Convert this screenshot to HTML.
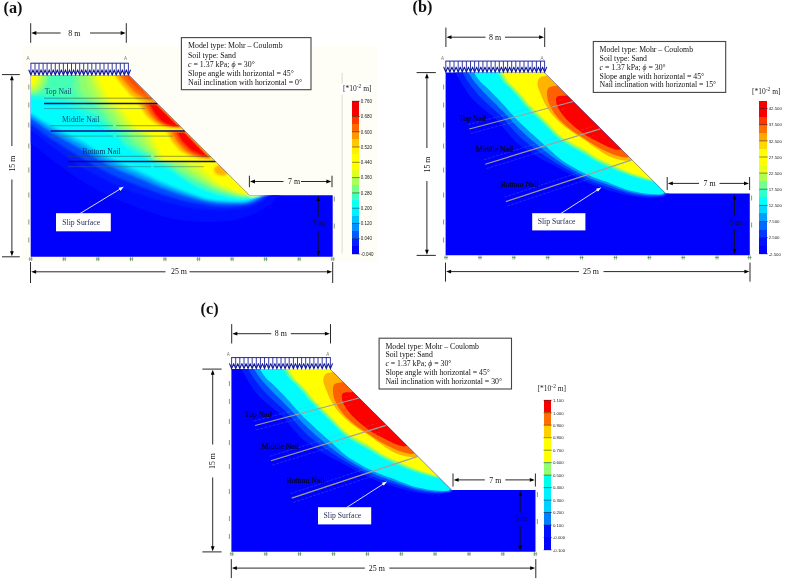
<!DOCTYPE html>
<html><head><meta charset="utf-8"><title>Figure</title>
<style>html,body{margin:0;padding:0;background:#fff}svg{display:block}</style></head>
<body><svg width="785" height="581" viewBox="0 0 785 581">
<rect width="785" height="581" fill="#fff"/>
<defs><filter id="bla" x="0" y="0" width="400" height="300" filterUnits="userSpaceOnUse"><feGaussianBlur stdDeviation="1.1"/></filter><filter id="blb" x="200" y="0" width="585" height="581" filterUnits="userSpaceOnUse"><feGaussianBlur stdDeviation="0.45"/></filter></defs>
<clipPath id="clipb"><polygon points="445.6,72.5 544.3,72.5 665.8,193.4 749.8,193.4 749.8,255.2 445.6,255.2"/></clipPath><g clip-path="url(#clipb)"><rect x="444.6" y="71.5" width="306.2" height="184.7" fill="#0000fd"/><g filter="url(#blb)"><path d="M451.0,64.0L452.9,68.2L455.2,72.3L457.5,76.3L459.9,80.3L462.2,84.3L464.7,88.3L467.2,92.2L470.0,95.9L473.0,99.4L476.3,102.7L479.9,105.7L483.5,108.7L487.0,111.7L490.6,114.6L494.3,117.5L497.6,120.7L500.7,124.2L503.5,127.9L506.4,131.5L509.5,135.0L512.5,138.5L515.8,141.8L519.4,144.7L523.2,147.4L527.1,150.0L531.0,152.5L534.9,155.0L538.9,157.4L542.9,159.7L547.0,162.0L551.1,164.1L555.2,166.3L559.4,168.5L563.4,170.7L567.5,172.9L571.6,175.1L575.7,177.3L579.8,179.5L584.0,181.5L588.3,183.3L592.6,185.0L597.0,186.5L601.4,188.0L605.8,189.4L610.3,190.8L614.8,192.0L619.3,193.3L623.7,194.5L628.3,195.5L632.9,196.3L637.5,197.0L642.1,197.5L646.7,197.9L651.4,197.9L656.0,197.6L660.6,197.0L665.1,195.9L669.1,193.6L672.0,190.0L900.0,150.0L900.0,-50.0L400.0,-50.0Z" fill="#001cff"/><path d="M457.5,64.0L459.6,68.0L461.9,71.8L464.2,75.6L466.6,79.5L469.0,83.2L471.7,86.8L474.5,90.3L477.4,93.7L480.4,97.1L483.6,100.2L486.9,103.3L490.2,106.3L493.5,109.3L496.9,112.3L500.2,115.3L503.3,118.5L506.3,121.9L509.2,125.3L512.2,128.7L515.2,132.0L518.3,135.3L521.6,138.4L525.0,141.3L528.5,144.1L532.1,146.7L535.8,149.4L539.5,151.9L543.1,154.5L546.8,157.1L550.5,159.6L554.3,162.0L558.1,164.2L562.0,166.5L566.0,168.7L569.9,170.9L573.8,173.1L577.8,175.2L581.8,177.2L585.9,179.1L590.0,180.9L594.2,182.5L598.5,184.0L602.7,185.4L607.0,186.9L611.2,188.3L615.5,189.7L619.8,191.0L624.1,192.3L628.5,193.5L632.9,194.4L637.3,195.2L641.8,195.8L646.2,196.2L650.7,196.5L655.2,196.4L659.7,196.0L664.1,195.3L667.9,193.0L670.9,189.6L900.0,150.0L900.0,-50.0L400.0,-50.0Z" fill="#004cff"/><path d="M462.9,64.0L465.2,67.7L467.5,71.4L469.9,75.1L472.2,78.8L474.8,82.3L477.6,85.6L480.6,88.7L483.6,91.9L486.6,95.1L489.7,98.2L492.8,101.2L496.0,104.3L499.0,107.4L502.1,110.5L505.2,113.6L508.2,116.7L511.1,120.0L514.0,123.2L517.0,126.4L520.1,129.5L523.2,132.6L526.4,135.6L529.7,138.5L533.0,141.2L536.4,144.0L539.8,146.7L543.2,149.4L546.6,152.2L550.0,154.9L553.4,157.6L557.0,160.1L560.6,162.5L564.3,164.8L568.1,167.0L571.9,169.2L575.7,171.3L579.6,173.4L583.5,175.3L587.5,177.1L591.5,178.8L595.6,180.4L599.7,181.8L603.8,183.3L607.9,184.8L612.0,186.3L616.2,187.7L620.3,189.2L624.4,190.5L628.6,191.8L632.9,192.8L637.2,193.6L641.5,194.3L645.8,194.9L650.2,195.2L654.5,195.3L658.9,195.2L663.2,194.7L667.0,192.6L669.9,189.3L900.0,150.0L900.0,-50.0L400.0,-50.0Z" fill="#0098ff"/><path d="M468.0,64.0L470.4,67.5L472.8,71.0L475.2,74.6L477.5,78.1L480.1,81.5L483.2,84.4L486.4,87.2L489.5,90.2L492.5,93.2L495.4,96.2L498.4,99.3L501.3,102.4L504.2,105.5L507.0,108.7L509.8,111.9L512.7,115.1L515.5,118.2L518.5,121.2L521.6,124.2L524.7,127.1L527.8,130.0L530.9,132.9L534.1,135.8L537.2,138.6L540.4,141.4L543.6,144.2L546.8,147.0L549.9,149.9L553.0,152.8L556.2,155.7L559.5,158.4L562.9,160.9L566.4,163.3L570.1,165.5L573.8,167.6L577.5,169.7L581.2,171.7L585.1,173.5L588.9,175.3L592.9,176.9L596.8,178.4L600.9,179.9L604.9,181.3L608.8,182.8L612.8,184.4L616.8,185.9L620.7,187.4L624.7,188.9L628.8,190.2L632.9,191.2L637.1,192.1L641.2,192.9L645.5,193.6L649.7,194.1L653.9,194.3L658.2,194.4L662.4,194.1L666.1,192.1L669.0,189.0L900.0,150.0L900.0,-50.0L400.0,-50.0Z" fill="#00fcfd"/><path d="M492.0,64.0L493.9,67.1L495.7,70.1L497.6,73.2L499.4,76.3L501.3,79.3L503.5,82.2L506.0,84.7L508.6,87.1L511.2,89.6L513.6,92.3L516.0,94.9L518.4,97.6L520.7,100.4L522.9,103.2L525.3,105.9L527.8,108.4L530.4,110.9L532.9,113.4L535.5,115.9L538.1,118.4L540.6,120.9L543.2,123.5L545.7,126.0L548.2,128.6L550.7,131.1L553.2,133.7L555.8,136.2L558.5,138.6L561.3,140.7L564.3,142.7L567.3,144.6L570.4,146.4L573.5,148.2L576.7,149.9L579.8,151.6L583.0,153.4L586.0,155.2L589.0,157.2L592.1,159.1L595.2,160.9L598.4,162.5L601.6,164.0L604.9,165.4L608.2,166.9L611.4,168.3L614.7,169.8L618.0,171.2L621.4,172.5L624.7,173.8L628.0,175.1L631.4,176.2L634.8,177.3L638.3,178.3L641.7,179.3L645.2,180.2L648.6,181.0L652.1,181.8L655.4,182.2L658.6,182.4L900.0,150.0L900.0,-50.0L400.0,-50.0Z" fill="#44ffb4"/><path d="M494.4,64.0L496.2,67.0L498.0,70.0L499.8,73.0L501.6,76.1L503.4,79.1L505.5,81.9L507.9,84.4L510.5,86.8L513.1,89.3L515.4,91.9L517.8,94.5L520.1,97.1L522.3,99.9L524.5,102.6L526.8,105.3L529.3,107.8L531.8,110.2L534.4,112.7L536.9,115.1L539.4,117.5L541.9,120.0L544.4,122.6L546.9,125.1L549.3,127.6L551.7,130.1L554.2,132.6L556.7,135.1L559.4,137.4L562.2,139.5L565.1,141.4L568.1,143.2L571.2,145.0L574.2,146.7L577.3,148.4L580.4,150.0L583.5,151.8L586.5,153.6L589.4,155.5L592.4,157.4L595.4,159.3L598.5,160.9L601.7,162.4L604.9,163.8L608.1,165.3L611.3,166.7L614.5,168.1L617.8,169.5L621.0,170.9L624.3,172.2L627.6,173.5L630.9,174.7L634.2,175.8L637.5,176.8L640.9,177.8L644.3,178.8L647.7,179.7L651.0,180.6L654.3,181.2L657.6,181.8L900.0,150.0L900.0,-50.0L400.0,-50.0Z" fill="#8cff70"/><path d="M496.5,64.0L498.3,67.0L500.0,70.0L501.8,72.9L503.5,75.9L505.2,78.9L507.3,81.7L509.7,84.2L512.2,86.6L514.7,89.0L517.0,91.5L519.3,94.1L521.6,96.7L523.8,99.4L525.9,102.1L528.2,104.7L530.6,107.2L533.1,109.6L535.6,112.0L538.1,114.4L540.6,116.8L543.0,119.2L545.4,121.7L547.9,124.2L550.3,126.7L552.6,129.2L555.0,131.7L557.5,134.1L560.1,136.4L562.9,138.5L565.8,140.3L568.8,142.0L571.8,143.7L574.9,145.4L577.9,147.0L581.0,148.6L584.0,150.3L586.9,152.2L589.8,154.1L592.7,156.0L595.6,157.9L598.6,159.5L601.8,161.0L604.9,162.4L608.1,163.9L611.2,165.3L614.4,166.7L617.5,168.1L620.7,169.5L623.9,170.8L627.1,172.0L630.4,173.3L633.6,174.4L636.9,175.5L640.2,176.5L643.5,177.5L646.8,178.5L650.1,179.5L653.4,180.4L656.6,181.2L900.0,150.0L900.0,-50.0L400.0,-50.0Z" fill="#c6ff38"/><path d="M498.0,64.0L499.7,66.9L501.5,69.9L503.2,72.8L504.9,75.8L506.6,78.8L508.5,81.6L510.9,84.1L513.4,86.4L515.9,88.8L518.2,91.3L520.4,93.8L522.7,96.4L524.8,99.1L526.9,101.8L529.2,104.4L531.6,106.8L534.1,109.1L536.5,111.5L539.0,113.9L541.4,116.2L543.8,118.7L546.2,121.1L548.6,123.6L551.0,126.1L553.3,128.6L555.6,131.0L558.1,133.5L560.6,135.7L563.4,137.7L566.3,139.5L569.3,141.1L572.3,142.8L575.3,144.5L578.3,146.0L581.3,147.6L584.3,149.3L587.2,151.1L590.0,153.1L592.9,155.0L595.7,156.8L598.7,158.5L601.8,160.0L604.9,161.4L608.0,162.9L611.1,164.3L614.2,165.7L617.4,167.1L620.5,168.4L623.7,169.8L626.8,171.0L630.0,172.3L633.2,173.4L636.5,174.5L639.7,175.6L643.0,176.6L646.2,177.7L649.5,178.7L652.7,179.8L656.0,180.8L900.0,150.0L900.0,-50.0L400.0,-50.0Z" fill="#ffff00"/><path d="M551.0,74.0C550.5,74.3 549.5,75.0 547.7,75.6C545.9,76.2 541.7,76.1 540.0,77.5C538.3,78.9 537.5,81.4 537.5,84.0C537.5,86.6 538.9,89.7 540.3,93.2C541.7,96.7 543.4,101.1 545.8,105.2C548.2,109.3 551.0,113.5 554.8,117.6C558.6,121.7 563.7,125.9 568.6,129.6C573.5,133.3 579.6,136.5 584.2,139.7C588.9,142.9 592.5,145.9 596.5,148.6C600.5,151.3 604.1,154.1 608.2,156.0C612.3,157.9 617.3,159.2 621.0,160.0C624.7,160.8 628.2,160.9 630.5,160.6C632.8,160.3 634.2,158.4 635.0,158.0Z" fill="#ffb400"/><path d="M560.0,84.0C559.5,84.3 558.5,85.2 556.7,85.8C554.9,86.4 550.6,86.2 549.0,87.5C547.4,88.8 547.1,90.8 547.1,93.5C547.1,96.2 547.4,99.9 549.0,103.7C550.6,107.5 553.3,112.3 556.7,116.4C560.1,120.5 565.1,125.0 569.4,128.5C573.7,132.0 578.4,134.5 582.7,137.4C587.1,140.3 591.2,143.2 595.5,145.7C599.8,148.2 604.0,150.5 608.2,152.3C612.5,154.2 617.8,156.0 621.0,156.8C624.2,157.6 625.8,157.5 627.5,157.2C629.2,156.9 630.4,155.4 631.0,155.0Z" fill="#ff6000"/><path d="M570.0,94.0C569.5,94.2 568.8,95.0 566.8,95.4C564.8,95.8 559.7,95.3 557.9,96.3C556.1,97.2 555.8,98.8 556.0,101.1C556.2,103.4 557.2,106.7 559.2,110.0C561.2,113.3 564.2,117.2 568.1,121.0C572.0,124.8 577.8,129.6 582.4,132.9C587.0,136.2 591.2,138.3 595.5,140.6C599.8,142.9 604.6,145.4 608.2,146.9C611.8,148.4 615.0,149.4 617.0,149.8C619.0,150.2 619.1,149.8 620.3,149.5C621.5,149.2 623.4,148.2 624.0,148.0Z" fill="#ff0400"/></g><path d="M468.1,124.6L532.6,107.5" stroke="#5aa8ff" stroke-opacity="0.5" stroke-width="0.5" stroke-dasharray="3 1.2"/><path d="M532.6,107.5L564.4,99.1" stroke="#d8c060" stroke-opacity="0.35" stroke-width="0.5" stroke-dasharray="3 1.5"/><path d="M470.5,133.4L535.0,116.4" stroke="#5aa8ff" stroke-opacity="0.5" stroke-width="0.5" stroke-dasharray="3 1.2"/><path d="M535.0,116.4L566.7,108.0" stroke="#d8c060" stroke-opacity="0.35" stroke-width="0.5" stroke-dasharray="3 1.5"/><path d="M469.3,129.0L573.3,101.5" stroke="#a2a29a" stroke-width="1.15"/><path d="M483.9,159.8L555.2,137.9" stroke="#5aa8ff" stroke-opacity="0.5" stroke-width="0.5" stroke-dasharray="3 1.2"/><path d="M555.2,137.9L591.3,126.8" stroke="#d8c060" stroke-opacity="0.35" stroke-width="0.5" stroke-dasharray="3 1.5"/><path d="M486.5,168.6L557.9,146.7" stroke="#5aa8ff" stroke-opacity="0.5" stroke-width="0.5" stroke-dasharray="3 1.2"/><path d="M557.9,146.7L594.0,135.6" stroke="#d8c060" stroke-opacity="0.35" stroke-width="0.5" stroke-dasharray="3 1.5"/><path d="M485.2,164.2L600.3,128.9" stroke="#a2a29a" stroke-width="1.15"/><path d="M504.5,197.2L582.2,171.5" stroke="#5aa8ff" stroke-opacity="0.5" stroke-width="0.5" stroke-dasharray="3 1.2"/><path d="M582.2,171.5L622.3,158.2" stroke="#d8c060" stroke-opacity="0.35" stroke-width="0.5" stroke-dasharray="3 1.5"/><path d="M507.3,206.0L585.1,180.2" stroke="#5aa8ff" stroke-opacity="0.5" stroke-width="0.5" stroke-dasharray="3 1.2"/><path d="M585.1,180.2L625.2,167.0" stroke="#d8c060" stroke-opacity="0.35" stroke-width="0.5" stroke-dasharray="3 1.5"/><path d="M505.9,201.6L631.3,160.1" stroke="#a2a29a" stroke-width="1.15"/></g><path d="M544.3,72.5L665.8,193.4" stroke="#555" stroke-width="0.4"/><g font-family='"Liberation Serif", serif' font-size="7.7" fill="#05051a" stroke="#05051a" stroke-width="0.18"><text x="459" y="120.6">Top Nail</text><text x="475.8" y="152.2">Middle Nail</text><text x="500.5" y="186.9">Bottom Nail</text></g><path d="M561.0,213.4L600.8,187.8" stroke="#f4f4f4" stroke-width="0.9"/><polygon points="600.8,187.8 598.0,191.7 596.0,188.7" fill="#fff"/><rect x="532.2" y="213.2" width="53.2" height="17.2" fill="#fff"/><text x="556.6" y="224.4" font-family='"Liberation Serif", serif' font-size="7.7" text-anchor="middle" fill="#26305c">Slip Surface</text><g stroke="#1c24a4" fill="none"><path d="M445.4,61.1H545.0" stroke-width="1"/><path d="M445.8,61.1V71.5M449.9,61.1V71.5M454.0,61.1V71.5M458.2,61.1V71.5M462.3,61.1V71.5M466.4,61.1V71.5M470.5,61.1V71.5M474.6,61.1V71.5M478.7,61.1V71.5M482.9,61.1V71.5M487.0,61.1V71.5M491.1,61.1V71.5M495.2,61.1V71.5M499.3,61.1V71.5M503.4,61.1V71.5M507.6,61.1V71.5M511.7,61.1V71.5M515.8,61.1V71.5M519.9,61.1V71.5M524.0,61.1V71.5M528.1,61.1V71.5M532.2,61.1V71.5M536.4,61.1V71.5M540.5,61.1V71.5M544.6,61.1V71.5" stroke-width="0.9"/><path d="M443.6,66.9L445.8,72.0L448.0,66.9M447.7,66.9L449.9,72.0L452.1,66.9M451.8,66.9L454.0,72.0L456.2,66.9M456.0,66.9L458.2,72.0L460.4,66.9M460.1,66.9L462.3,72.0L464.5,66.9M464.2,66.9L466.4,72.0L468.6,66.9M468.3,66.9L470.5,72.0L472.7,66.9M472.4,66.9L474.6,72.0L476.8,66.9M476.5,66.9L478.7,72.0L480.9,66.9M480.7,66.9L482.9,72.0L485.1,66.9M484.8,66.9L487.0,72.0L489.2,66.9M488.9,66.9L491.1,72.0L493.3,66.9M493.0,66.9L495.2,72.0L497.4,66.9M497.1,66.9L499.3,72.0L501.5,66.9M501.2,66.9L503.4,72.0L505.6,66.9M505.4,66.9L507.6,72.0L509.8,66.9M509.5,66.9L511.7,72.0L513.9,66.9M513.6,66.9L515.8,72.0L518.0,66.9M517.7,66.9L519.9,72.0L522.1,66.9M521.8,66.9L524.0,72.0L526.2,66.9M525.9,66.9L528.1,72.0L530.3,66.9M530.0,66.9L532.2,72.0L534.5,66.9M534.2,66.9L536.4,72.0L538.6,66.9M538.3,66.9L540.5,72.0L542.7,66.9M542.4,66.9L544.6,72.0L546.8,66.9" stroke-width="1.1" stroke="#10189a"/></g><g font-family='"Liberation Sans", sans-serif' font-size="4.6" fill="#777"><text x="441" y="59.6">A</text><text x="540.4" y="59.6">A</text></g><g stroke="#3a7a3a" stroke-width="0.6" fill="none"><path d="M444.0,257.4h4M445.1,255.5v4M446.9,255.5v4M478.0,257.4h4M479.1,255.5v4M480.9,255.5v4M511.8,257.4h4M512.9,255.5v4M514.7,255.5v4M545.7,257.4h4M546.8,255.5v4M548.6,255.5v4M579.6,257.4h4M580.7,255.5v4M582.5,255.5v4M613.5,257.4h4M614.6,255.5v4M616.4,255.5v4M647.3,257.4h4M648.4,255.5v4M650.2,255.5v4M681.2,257.4h4M682.3,255.5v4M684.1,255.5v4M715.0,257.4h4M716.1,255.5v4M717.9,255.5v4M747.5,257.4h4M748.6,255.5v4M750.4,255.5v4"/></g><g stroke="#8a9a7a" stroke-width="1" fill="none"><path d="M443.6,84.5v5M443.6,102.5v5M443.6,122.5v5M443.6,143.5v5M443.6,167.5v5M443.6,192.5v5M443.6,219.5v5M443.6,237.5v5M751.6,195.5v5M751.6,222.5v5"/></g><g stroke="#111" stroke-width="0.90" fill="none"><path d="M445.9,27.6V47.0M544.7,27.6V47.0"/><path d="M448.9,37.2H485.5M505.0,37.2H541.7"/></g><polygon points="446.5,37.2 451.5,35.3 451.5,39.1" fill="#000"/><polygon points="544.1,37.2 539.1,39.1 539.1,35.3" fill="#000"/><text x="495.0" y="39.8" font-family='"Liberation Serif", serif' font-size="7.9" text-anchor="middle" fill="#111">8 m</text><g stroke="#111" stroke-width="0.90" fill="none"><path d="M667.2,177.0V190.0M749.6,177.0V190.0"/><path d="M670.2,183.4H699.0M719.5,183.4H746.6"/></g><polygon points="667.8,183.4 672.8,181.5 672.8,185.3" fill="#000"/><polygon points="749.0,183.4 744.0,185.3 744.0,181.5" fill="#000"/><text x="709.5" y="186.0" font-family='"Liberation Serif", serif' font-size="7.9" text-anchor="middle" fill="#111">7 m</text><g stroke="#111" stroke-width="0.90" fill="none"><path d="M445.5,262.6V281.6M750.0,262.6V281.6"/><path d="M448.5,271.6H579.0M603.5,271.6H747.0"/></g><polygon points="446.1,271.6 451.1,269.7 451.1,273.5" fill="#000"/><polygon points="749.4,271.6 744.4,273.5 744.4,269.7" fill="#000"/><text x="591.0" y="274.2" font-family='"Liberation Serif", serif' font-size="7.9" text-anchor="middle" fill="#111">25 m</text><g stroke="#111" stroke-width="0.90" fill="none"><path d="M416.6,72.6H435.8M416.6,255.4H435.8"/><path d="M426.9,75.6V148.0M426.9,181.0V252.4"/></g><polygon points="426.9,73.2 428.8,78.2 425.0,78.2" fill="#000"/><polygon points="426.9,254.8 425.0,249.8 428.8,249.8" fill="#000"/><text transform="translate(429.5,164.5) rotate(-90)" font-family='"Liberation Serif", serif' font-size="7.8" text-anchor="middle" fill="#111">15 m</text><g stroke="#111" stroke-width="0.90" fill="none"><path d="M734.4,194.0H734.4M734.4,254.6H734.4"/><path d="M734.4,197.0V216.0M734.4,229.5V251.6"/></g><polygon points="734.4,194.6 736.3,199.6 732.5,199.6" fill="#000"/><polygon points="734.4,254.0 732.5,249.0 736.3,249.0" fill="#000"/><text x="735.2" y="224.6" font-family='"Liberation Serif", serif' font-size="7.9" text-anchor="middle" fill="#111">5 m</text>
<rect x="593.3" y="41.5" width="132.4" height="50.9" fill="#fff" stroke="#444" stroke-width="1.1"/><text font-family='"Liberation Serif", serif' font-size="7.75" fill="#111"><tspan x="599.6" y="51.8">Model type: Mohr – Coulomb</tspan><tspan x="599.6" y="60.7">Soil type: Sand</tspan><tspan x="599.6" y="69.6"><tspan font-style="italic">c</tspan> = 1.37 kPa; <tspan font-style="italic">ϕ</tspan> = 30°</tspan><tspan x="599.6" y="78.5">Slope angle with horizontal = 45°</tspan><tspan x="599.6" y="87.4">Nail inclination with horizontal = 15°</tspan></text>
<g shape-rendering="crispEdges"><rect x="759.3" y="100.50" width="7.2" height="8.37" fill="#f80000"/><rect x="759.3" y="108.57" width="7.2" height="8.37" fill="#f80000"/><rect x="759.3" y="116.64" width="7.2" height="8.37" fill="#ff3800"/><rect x="759.3" y="124.71" width="7.2" height="8.37" fill="#ff7000"/><rect x="759.3" y="132.77" width="7.2" height="8.37" fill="#ffa800"/><rect x="759.3" y="140.84" width="7.2" height="8.37" fill="#ffd800"/><rect x="759.3" y="148.91" width="7.2" height="8.37" fill="#ffff00"/><rect x="759.3" y="156.98" width="7.2" height="8.37" fill="#ffff00"/><rect x="759.3" y="165.05" width="7.2" height="8.37" fill="#e8ff18"/><rect x="759.3" y="173.12" width="7.2" height="8.37" fill="#b0ff50"/><rect x="759.3" y="181.18" width="7.2" height="8.37" fill="#70ff90"/><rect x="759.3" y="189.25" width="7.2" height="8.37" fill="#30ffd0"/><rect x="759.3" y="197.32" width="7.2" height="8.37" fill="#00ffff"/><rect x="759.3" y="205.39" width="7.2" height="8.37" fill="#00d8ff"/><rect x="759.3" y="213.46" width="7.2" height="8.37" fill="#00a0ff"/><rect x="759.3" y="221.53" width="7.2" height="8.37" fill="#0068ff"/><rect x="759.3" y="229.59" width="7.2" height="8.37" fill="#0038ff"/><rect x="759.3" y="237.66" width="7.2" height="8.37" fill="#0010ff"/><rect x="759.3" y="245.73" width="7.2" height="8.37" fill="#0000fd"/></g><g font-family='"Liberation Sans", sans-serif' font-size="4.3" fill="#222"><path d="M759.3,108.6h8.7" stroke="#223" stroke-width="0.5"/><text x="768.7" y="110.3">42.500</text><path d="M759.3,124.7h8.7" stroke="#223" stroke-width="0.5"/><text x="768.7" y="126.4">37.500</text><path d="M759.3,140.9h8.7" stroke="#223" stroke-width="0.5"/><text x="768.7" y="142.6">32.500</text><path d="M759.3,157.0h8.7" stroke="#223" stroke-width="0.5"/><text x="768.7" y="158.7">27.500</text><path d="M759.3,173.1h8.7" stroke="#223" stroke-width="0.5"/><text x="768.7" y="174.8">22.500</text><path d="M759.3,189.2h8.7" stroke="#223" stroke-width="0.5"/><text x="768.7" y="190.9">17.500</text><path d="M759.3,205.4h8.7" stroke="#223" stroke-width="0.5"/><text x="768.7" y="207.1">12.500</text><path d="M759.3,221.5h8.7" stroke="#223" stroke-width="0.5"/><text x="768.7" y="223.2">7.500</text><path d="M759.3,237.6h8.7" stroke="#223" stroke-width="0.5"/><text x="768.7" y="239.3">2.500</text><path d="M759.3,253.8h8.7" stroke="#223" stroke-width="0.5"/><text x="768.7" y="255.5">-2.500</text></g><text x="752.0" y="94.0" font-family='"Liberation Serif", serif' font-size="7.5" fill="#222">[*10<tspan dy="-3" font-size="5.4">-2</tspan><tspan dy="3"> m]</tspan></text>
<text x="412.6" y="12.2" font-family='"Liberation Serif", serif' font-size="16.2" font-weight="bold" fill="#111">(b)</text>
<g transform="translate(-214.2,296.5)"><clipPath id="clipc"><polygon points="445.6,72.5 544.3,72.5 665.8,193.4 749.8,193.4 749.8,255.2 445.6,255.2"/></clipPath><g clip-path="url(#clipc)"><rect x="444.6" y="71.5" width="306.2" height="184.7" fill="#0000fd"/><g filter="url(#blb)"><path d="M451.0,64.0L452.9,68.2L455.2,72.3L457.5,76.3L459.9,80.3L462.2,84.3L464.7,88.3L467.2,92.2L470.0,95.9L473.0,99.4L476.3,102.7L479.9,105.7L483.5,108.7L487.0,111.7L490.6,114.6L494.3,117.5L497.6,120.7L500.7,124.2L503.5,127.9L506.4,131.5L509.5,135.0L512.5,138.5L515.8,141.8L519.4,144.7L523.2,147.4L527.1,150.0L531.0,152.5L534.9,155.0L538.9,157.4L542.9,159.7L547.0,162.0L551.1,164.1L555.2,166.3L559.4,168.5L563.4,170.7L567.5,172.9L571.6,175.1L575.7,177.3L579.8,179.5L584.0,181.5L588.3,183.3L592.6,185.0L597.0,186.5L601.4,188.0L605.8,189.4L610.3,190.8L614.8,192.0L619.3,193.3L623.7,194.5L628.3,195.5L632.9,196.3L637.5,197.0L642.1,197.5L646.7,197.9L651.4,197.9L656.0,197.6L660.6,197.0L665.1,195.9L669.1,193.6L672.0,190.0L900.0,150.0L900.0,-50.0L400.0,-50.0Z" fill="#001cff"/><path d="M457.5,64.0L459.6,68.0L461.9,71.8L464.2,75.6L466.6,79.5L469.0,83.2L471.7,86.8L474.5,90.3L477.4,93.7L480.4,97.1L483.6,100.2L486.9,103.3L490.2,106.3L493.5,109.3L496.9,112.3L500.2,115.3L503.3,118.5L506.3,121.9L509.2,125.3L512.2,128.7L515.2,132.0L518.3,135.3L521.6,138.4L525.0,141.3L528.5,144.1L532.1,146.7L535.8,149.4L539.5,151.9L543.1,154.5L546.8,157.1L550.5,159.6L554.3,162.0L558.1,164.2L562.0,166.5L566.0,168.7L569.9,170.9L573.8,173.1L577.8,175.2L581.8,177.2L585.9,179.1L590.0,180.9L594.2,182.5L598.5,184.0L602.7,185.4L607.0,186.9L611.2,188.3L615.5,189.7L619.8,191.0L624.1,192.3L628.5,193.5L632.9,194.4L637.3,195.2L641.8,195.8L646.2,196.2L650.7,196.5L655.2,196.4L659.7,196.0L664.1,195.3L667.9,193.0L670.9,189.6L900.0,150.0L900.0,-50.0L400.0,-50.0Z" fill="#004cff"/><path d="M462.9,64.0L465.2,67.7L467.5,71.4L469.9,75.1L472.2,78.8L474.8,82.3L477.6,85.6L480.6,88.7L483.6,91.9L486.6,95.1L489.7,98.2L492.8,101.2L496.0,104.3L499.0,107.4L502.1,110.5L505.2,113.6L508.2,116.7L511.1,120.0L514.0,123.2L517.0,126.4L520.1,129.5L523.2,132.6L526.4,135.6L529.7,138.5L533.0,141.2L536.4,144.0L539.8,146.7L543.2,149.4L546.6,152.2L550.0,154.9L553.4,157.6L557.0,160.1L560.6,162.5L564.3,164.8L568.1,167.0L571.9,169.2L575.7,171.3L579.6,173.4L583.5,175.3L587.5,177.1L591.5,178.8L595.6,180.4L599.7,181.8L603.8,183.3L607.9,184.8L612.0,186.3L616.2,187.7L620.3,189.2L624.4,190.5L628.6,191.8L632.9,192.8L637.2,193.6L641.5,194.3L645.8,194.9L650.2,195.2L654.5,195.3L658.9,195.2L663.2,194.7L667.0,192.6L669.9,189.3L900.0,150.0L900.0,-50.0L400.0,-50.0Z" fill="#0098ff"/><path d="M468.0,64.0L470.4,67.5L472.8,71.0L475.2,74.6L477.5,78.1L480.1,81.5L483.2,84.4L486.4,87.2L489.5,90.2L492.5,93.2L495.4,96.2L498.4,99.3L501.3,102.4L504.2,105.5L507.0,108.7L509.8,111.9L512.7,115.1L515.5,118.2L518.5,121.2L521.6,124.2L524.7,127.1L527.8,130.0L530.9,132.9L534.1,135.8L537.2,138.6L540.4,141.4L543.6,144.2L546.8,147.0L549.9,149.9L553.0,152.8L556.2,155.7L559.5,158.4L562.9,160.9L566.4,163.3L570.1,165.5L573.8,167.6L577.5,169.7L581.2,171.7L585.1,173.5L588.9,175.3L592.9,176.9L596.8,178.4L600.9,179.9L604.9,181.3L608.8,182.8L612.8,184.4L616.8,185.9L620.7,187.4L624.7,188.9L628.8,190.2L632.9,191.2L637.1,192.1L641.2,192.9L645.5,193.6L649.7,194.1L653.9,194.3L658.2,194.4L662.4,194.1L666.1,192.1L669.0,189.0L900.0,150.0L900.0,-50.0L400.0,-50.0Z" fill="#00fcfd"/><path d="M492.0,64.0L493.9,67.1L495.7,70.1L497.6,73.2L499.4,76.3L501.3,79.3L503.5,82.2L506.0,84.7L508.6,87.1L511.2,89.6L513.6,92.3L516.0,94.9L518.4,97.6L520.7,100.4L522.9,103.2L525.3,105.9L527.8,108.4L530.4,110.9L532.9,113.4L535.5,115.9L538.1,118.4L540.6,120.9L543.2,123.5L545.7,126.0L548.2,128.6L550.7,131.1L553.2,133.7L555.8,136.2L558.5,138.6L561.3,140.7L564.3,142.7L567.3,144.6L570.4,146.4L573.5,148.2L576.7,149.9L579.8,151.6L583.0,153.4L586.0,155.2L589.0,157.2L592.1,159.1L595.2,160.9L598.4,162.5L601.6,164.0L604.9,165.4L608.2,166.9L611.4,168.3L614.7,169.8L618.0,171.2L621.4,172.5L624.7,173.8L628.0,175.1L631.4,176.2L634.8,177.3L638.3,178.3L641.7,179.3L645.2,180.2L648.6,181.0L652.1,181.8L655.4,182.2L658.6,182.4L900.0,150.0L900.0,-50.0L400.0,-50.0Z" fill="#44ffb4"/><path d="M494.4,64.0L496.2,67.0L498.0,70.0L499.8,73.0L501.6,76.1L503.4,79.1L505.5,81.9L507.9,84.4L510.5,86.8L513.1,89.3L515.4,91.9L517.8,94.5L520.1,97.1L522.3,99.9L524.5,102.6L526.8,105.3L529.3,107.8L531.8,110.2L534.4,112.7L536.9,115.1L539.4,117.5L541.9,120.0L544.4,122.6L546.9,125.1L549.3,127.6L551.7,130.1L554.2,132.6L556.7,135.1L559.4,137.4L562.2,139.5L565.1,141.4L568.1,143.2L571.2,145.0L574.2,146.7L577.3,148.4L580.4,150.0L583.5,151.8L586.5,153.6L589.4,155.5L592.4,157.4L595.4,159.3L598.5,160.9L601.7,162.4L604.9,163.8L608.1,165.3L611.3,166.7L614.5,168.1L617.8,169.5L621.0,170.9L624.3,172.2L627.6,173.5L630.9,174.7L634.2,175.8L637.5,176.8L640.9,177.8L644.3,178.8L647.7,179.7L651.0,180.6L654.3,181.2L657.6,181.8L900.0,150.0L900.0,-50.0L400.0,-50.0Z" fill="#8cff70"/><path d="M496.5,64.0L498.3,67.0L500.0,70.0L501.8,72.9L503.5,75.9L505.2,78.9L507.3,81.7L509.7,84.2L512.2,86.6L514.7,89.0L517.0,91.5L519.3,94.1L521.6,96.7L523.8,99.4L525.9,102.1L528.2,104.7L530.6,107.2L533.1,109.6L535.6,112.0L538.1,114.4L540.6,116.8L543.0,119.2L545.4,121.7L547.9,124.2L550.3,126.7L552.6,129.2L555.0,131.7L557.5,134.1L560.1,136.4L562.9,138.5L565.8,140.3L568.8,142.0L571.8,143.7L574.9,145.4L577.9,147.0L581.0,148.6L584.0,150.3L586.9,152.2L589.8,154.1L592.7,156.0L595.6,157.9L598.6,159.5L601.8,161.0L604.9,162.4L608.1,163.9L611.2,165.3L614.4,166.7L617.5,168.1L620.7,169.5L623.9,170.8L627.1,172.0L630.4,173.3L633.6,174.4L636.9,175.5L640.2,176.5L643.5,177.5L646.8,178.5L650.1,179.5L653.4,180.4L656.6,181.2L900.0,150.0L900.0,-50.0L400.0,-50.0Z" fill="#c6ff38"/><path d="M498.0,64.0L499.7,66.9L501.5,69.9L503.2,72.8L504.9,75.8L506.6,78.8L508.5,81.6L510.9,84.1L513.4,86.4L515.9,88.8L518.2,91.3L520.4,93.8L522.7,96.4L524.8,99.1L526.9,101.8L529.2,104.4L531.6,106.8L534.1,109.1L536.5,111.5L539.0,113.9L541.4,116.2L543.8,118.7L546.2,121.1L548.6,123.6L551.0,126.1L553.3,128.6L555.6,131.0L558.1,133.5L560.6,135.7L563.4,137.7L566.3,139.5L569.3,141.1L572.3,142.8L575.3,144.5L578.3,146.0L581.3,147.6L584.3,149.3L587.2,151.1L590.0,153.1L592.9,155.0L595.7,156.8L598.7,158.5L601.8,160.0L604.9,161.4L608.0,162.9L611.1,164.3L614.2,165.7L617.4,167.1L620.5,168.4L623.7,169.8L626.8,171.0L630.0,172.3L633.2,173.4L636.5,174.5L639.7,175.6L643.0,176.6L646.2,177.7L649.5,178.7L652.7,179.8L656.0,180.8L900.0,150.0L900.0,-50.0L400.0,-50.0Z" fill="#ffff00"/><path d="M551.0,74.0C550.5,74.3 549.5,75.0 547.7,75.6C545.9,76.2 541.7,76.1 540.0,77.5C538.3,78.9 537.5,81.4 537.5,84.0C537.5,86.6 538.9,89.7 540.3,93.2C541.7,96.7 543.4,101.1 545.8,105.2C548.2,109.3 551.0,113.5 554.8,117.6C558.6,121.7 563.7,125.9 568.6,129.6C573.5,133.3 579.6,136.5 584.2,139.7C588.9,142.9 592.5,145.9 596.5,148.6C600.5,151.3 604.1,154.1 608.2,156.0C612.3,157.9 617.3,159.2 621.0,160.0C624.7,160.8 628.2,160.9 630.5,160.6C632.8,160.3 634.2,158.4 635.0,158.0Z" fill="#ffb400"/><path d="M560.0,84.0C559.5,84.3 558.5,85.2 556.7,85.8C554.9,86.4 550.6,86.2 549.0,87.5C547.4,88.8 547.1,90.8 547.1,93.5C547.1,96.2 547.4,99.9 549.0,103.7C550.6,107.5 553.3,112.3 556.7,116.4C560.1,120.5 565.1,125.0 569.4,128.5C573.7,132.0 578.4,134.5 582.7,137.4C587.1,140.3 591.2,143.2 595.5,145.7C599.8,148.2 604.0,150.5 608.2,152.3C612.5,154.2 617.8,156.0 621.0,156.8C624.2,157.6 625.8,157.5 627.5,157.2C629.2,156.9 630.4,155.4 631.0,155.0Z" fill="#ff6000"/><path d="M570.0,94.0C569.5,94.2 568.8,95.0 566.8,95.4C564.8,95.8 559.7,95.3 557.9,96.3C556.1,97.2 555.8,98.8 556.0,101.1C556.2,103.4 557.2,106.7 559.2,110.0C561.2,113.3 564.2,117.2 568.1,121.0C572.0,124.8 577.8,129.6 582.4,132.9C587.0,136.2 591.2,138.3 595.5,140.6C599.8,142.9 604.6,145.4 608.2,146.9C611.8,148.4 615.0,149.4 617.0,149.8C619.0,150.2 619.1,149.8 620.3,149.5C621.5,149.2 623.4,148.2 624.0,148.0Z" fill="#ff0400"/></g><path d="M468.1,124.6L532.6,107.5" stroke="#5aa8ff" stroke-opacity="0.5" stroke-width="0.5" stroke-dasharray="3 1.2"/><path d="M532.6,107.5L564.4,99.1" stroke="#d8c060" stroke-opacity="0.35" stroke-width="0.5" stroke-dasharray="3 1.5"/><path d="M470.5,133.4L535.0,116.4" stroke="#5aa8ff" stroke-opacity="0.5" stroke-width="0.5" stroke-dasharray="3 1.2"/><path d="M535.0,116.4L566.7,108.0" stroke="#d8c060" stroke-opacity="0.35" stroke-width="0.5" stroke-dasharray="3 1.5"/><path d="M469.3,129.0L573.3,101.5" stroke="#a2a29a" stroke-width="1.15"/><path d="M483.9,159.8L555.2,137.9" stroke="#5aa8ff" stroke-opacity="0.5" stroke-width="0.5" stroke-dasharray="3 1.2"/><path d="M555.2,137.9L591.3,126.8" stroke="#d8c060" stroke-opacity="0.35" stroke-width="0.5" stroke-dasharray="3 1.5"/><path d="M486.5,168.6L557.9,146.7" stroke="#5aa8ff" stroke-opacity="0.5" stroke-width="0.5" stroke-dasharray="3 1.2"/><path d="M557.9,146.7L594.0,135.6" stroke="#d8c060" stroke-opacity="0.35" stroke-width="0.5" stroke-dasharray="3 1.5"/><path d="M485.2,164.2L600.3,128.9" stroke="#a2a29a" stroke-width="1.15"/><path d="M504.5,197.2L582.2,171.5" stroke="#5aa8ff" stroke-opacity="0.5" stroke-width="0.5" stroke-dasharray="3 1.2"/><path d="M582.2,171.5L622.3,158.2" stroke="#d8c060" stroke-opacity="0.35" stroke-width="0.5" stroke-dasharray="3 1.5"/><path d="M507.3,206.0L585.1,180.2" stroke="#5aa8ff" stroke-opacity="0.5" stroke-width="0.5" stroke-dasharray="3 1.2"/><path d="M585.1,180.2L625.2,167.0" stroke="#d8c060" stroke-opacity="0.35" stroke-width="0.5" stroke-dasharray="3 1.5"/><path d="M505.9,201.6L631.3,160.1" stroke="#a2a29a" stroke-width="1.15"/></g><path d="M544.3,72.5L665.8,193.4" stroke="#555" stroke-width="0.4"/><g font-family='"Liberation Serif", serif' font-size="7.7" fill="#05051a" stroke="#05051a" stroke-width="0.18"><text x="459" y="120.6">Top Nail</text><text x="475.8" y="152.2">Middle Nail</text><text x="500.5" y="186.9">Bottom Nail</text></g><path d="M561.0,210.9L600.8,185.3" stroke="#f4f4f4" stroke-width="0.9"/><polygon points="600.8,185.3 598.0,189.2 596.0,186.2" fill="#fff"/><rect x="532.2" y="210.7" width="53.2" height="17.2" fill="#fff"/><text x="556.6" y="221.9" font-family='"Liberation Serif", serif' font-size="7.7" text-anchor="middle" fill="#26305c">Slip Surface</text><g stroke="#1c24a4" fill="none"><path d="M445.4,61.1H545.0" stroke-width="1"/><path d="M445.8,61.1V71.5M449.9,61.1V71.5M454.0,61.1V71.5M458.2,61.1V71.5M462.3,61.1V71.5M466.4,61.1V71.5M470.5,61.1V71.5M474.6,61.1V71.5M478.7,61.1V71.5M482.9,61.1V71.5M487.0,61.1V71.5M491.1,61.1V71.5M495.2,61.1V71.5M499.3,61.1V71.5M503.4,61.1V71.5M507.6,61.1V71.5M511.7,61.1V71.5M515.8,61.1V71.5M519.9,61.1V71.5M524.0,61.1V71.5M528.1,61.1V71.5M532.2,61.1V71.5M536.4,61.1V71.5M540.5,61.1V71.5M544.6,61.1V71.5" stroke-width="0.9"/><path d="M443.6,66.9L445.8,72.0L448.0,66.9M447.7,66.9L449.9,72.0L452.1,66.9M451.8,66.9L454.0,72.0L456.2,66.9M456.0,66.9L458.2,72.0L460.4,66.9M460.1,66.9L462.3,72.0L464.5,66.9M464.2,66.9L466.4,72.0L468.6,66.9M468.3,66.9L470.5,72.0L472.7,66.9M472.4,66.9L474.6,72.0L476.8,66.9M476.5,66.9L478.7,72.0L480.9,66.9M480.7,66.9L482.9,72.0L485.1,66.9M484.8,66.9L487.0,72.0L489.2,66.9M488.9,66.9L491.1,72.0L493.3,66.9M493.0,66.9L495.2,72.0L497.4,66.9M497.1,66.9L499.3,72.0L501.5,66.9M501.2,66.9L503.4,72.0L505.6,66.9M505.4,66.9L507.6,72.0L509.8,66.9M509.5,66.9L511.7,72.0L513.9,66.9M513.6,66.9L515.8,72.0L518.0,66.9M517.7,66.9L519.9,72.0L522.1,66.9M521.8,66.9L524.0,72.0L526.2,66.9M525.9,66.9L528.1,72.0L530.3,66.9M530.0,66.9L532.2,72.0L534.5,66.9M534.2,66.9L536.4,72.0L538.6,66.9M538.3,66.9L540.5,72.0L542.7,66.9M542.4,66.9L544.6,72.0L546.8,66.9" stroke-width="1.1" stroke="#10189a"/></g><g font-family='"Liberation Sans", sans-serif' font-size="4.6" fill="#777"><text x="441" y="59.6">A</text><text x="540.4" y="59.6">A</text></g><g stroke="#3a7a3a" stroke-width="0.6" fill="none"><path d="M444.0,257.4h4M445.1,255.5v4M446.9,255.5v4M478.0,257.4h4M479.1,255.5v4M480.9,255.5v4M511.8,257.4h4M512.9,255.5v4M514.7,255.5v4M545.7,257.4h4M546.8,255.5v4M548.6,255.5v4M579.6,257.4h4M580.7,255.5v4M582.5,255.5v4M613.5,257.4h4M614.6,255.5v4M616.4,255.5v4M647.3,257.4h4M648.4,255.5v4M650.2,255.5v4M681.2,257.4h4M682.3,255.5v4M684.1,255.5v4M715.0,257.4h4M716.1,255.5v4M717.9,255.5v4M747.5,257.4h4M748.6,255.5v4M750.4,255.5v4"/></g><g stroke="#8a9a7a" stroke-width="1" fill="none"><path d="M443.6,84.5v5M443.6,102.5v5M443.6,122.5v5M443.6,143.5v5M443.6,167.5v5M443.6,192.5v5M443.6,219.5v5M443.6,237.5v5M751.6,195.5v5M751.6,222.5v5"/></g><g stroke="#111" stroke-width="0.90" fill="none"><path d="M445.9,27.6V47.0M544.7,27.6V47.0"/><path d="M448.9,37.2H485.5M505.0,37.2H541.7"/></g><polygon points="446.5,37.2 451.5,35.3 451.5,39.1" fill="#000"/><polygon points="544.1,37.2 539.1,39.1 539.1,35.3" fill="#000"/><text x="495.0" y="39.8" font-family='"Liberation Serif", serif' font-size="7.9" text-anchor="middle" fill="#111">8 m</text><g stroke="#111" stroke-width="0.90" fill="none"><path d="M667.2,177.0V190.0M749.6,177.0V190.0"/><path d="M670.2,183.4H699.0M719.5,183.4H746.6"/></g><polygon points="667.8,183.4 672.8,181.5 672.8,185.3" fill="#000"/><polygon points="749.0,183.4 744.0,185.3 744.0,181.5" fill="#000"/><text x="709.5" y="186.0" font-family='"Liberation Serif", serif' font-size="7.9" text-anchor="middle" fill="#111">7 m</text><g stroke="#111" stroke-width="0.90" fill="none"><path d="M445.5,262.6V281.6M750.0,262.6V281.6"/><path d="M448.5,271.6H579.0M603.5,271.6H747.0"/></g><polygon points="446.1,271.6 451.1,269.7 451.1,273.5" fill="#000"/><polygon points="749.4,271.6 744.4,273.5 744.4,269.7" fill="#000"/><text x="591.0" y="274.2" font-family='"Liberation Serif", serif' font-size="7.9" text-anchor="middle" fill="#111">25 m</text><g stroke="#111" stroke-width="0.90" fill="none"><path d="M416.6,72.6H435.8M416.6,255.4H435.8"/><path d="M426.9,75.6V148.0M426.9,181.0V252.4"/></g><polygon points="426.9,73.2 428.8,78.2 425.0,78.2" fill="#000"/><polygon points="426.9,254.8 425.0,249.8 428.8,249.8" fill="#000"/><text transform="translate(429.5,164.5) rotate(-90)" font-family='"Liberation Serif", serif' font-size="7.8" text-anchor="middle" fill="#111">15 m</text><g stroke="#111" stroke-width="0.90" fill="none"><path d="M734.4,194.0H734.4M734.4,254.6H734.4"/><path d="M734.4,197.0V216.0M734.4,229.5V251.6"/></g><polygon points="734.4,194.6 736.3,199.6 732.5,199.6" fill="#000"/><polygon points="734.4,254.0 732.5,249.0 736.3,249.0" fill="#000"/><text x="735.2" y="224.6" font-family='"Liberation Serif", serif' font-size="7.9" text-anchor="middle" fill="#111">5 m</text></g>
<rect x="379.1" y="338.2" width="132.4" height="50.8" fill="#fff" stroke="#444" stroke-width="1.1"/><text font-family='"Liberation Serif", serif' font-size="7.75" fill="#111"><tspan x="385.4" y="348.5">Model type: Mohr – Coulomb</tspan><tspan x="385.4" y="357.4">Soil type: Sand</tspan><tspan x="385.4" y="366.3"><tspan font-style="italic">c</tspan> = 1.37 kPa; <tspan font-style="italic">ϕ</tspan> = 30°</tspan><tspan x="385.4" y="375.2">Slope angle with horizontal = 45°</tspan><tspan x="385.4" y="384.1">Nail inclination with horizontal = 30°</tspan></text>
<g shape-rendering="crispEdges"><rect x="543.5" y="400.00" width="7.2" height="12.79" fill="#f80000"/><rect x="543.5" y="412.49" width="7.2" height="12.79" fill="#ff7000"/><rect x="543.5" y="424.98" width="7.2" height="12.79" fill="#ffd000"/><rect x="543.5" y="437.48" width="7.2" height="12.79" fill="#ffff00"/><rect x="543.5" y="449.97" width="7.2" height="12.79" fill="#ffff00"/><rect x="543.5" y="462.46" width="7.2" height="12.79" fill="#90ff70"/><rect x="543.5" y="474.95" width="7.2" height="12.79" fill="#00ffe8"/><rect x="543.5" y="487.44" width="7.2" height="12.79" fill="#00f0ff"/><rect x="543.5" y="499.93" width="7.2" height="12.79" fill="#00d0ff"/><rect x="543.5" y="512.42" width="7.2" height="12.79" fill="#0080ff"/><rect x="543.5" y="524.92" width="7.2" height="12.79" fill="#0010ff"/><rect x="543.5" y="537.41" width="7.2" height="12.79" fill="#0000fd"/></g><g font-family='"Liberation Sans", sans-serif' font-size="4.3" fill="#222"><path d="M543.5,400.3h8.7" stroke="#223" stroke-width="0.5"/><text x="552.9" y="402.0">1.100</text><path d="M543.5,412.8h8.7" stroke="#223" stroke-width="0.5"/><text x="552.9" y="414.5">1.000</text><path d="M543.5,425.2h8.7" stroke="#223" stroke-width="0.5"/><text x="552.9" y="426.9">0.900</text><path d="M543.5,437.7h8.7" stroke="#223" stroke-width="0.5"/><text x="552.9" y="439.4">0.800</text><path d="M543.5,450.2h8.7" stroke="#223" stroke-width="0.5"/><text x="552.9" y="451.9">0.700</text><path d="M543.5,462.7h8.7" stroke="#223" stroke-width="0.5"/><text x="552.9" y="464.4">0.600</text><path d="M543.5,475.1h8.7" stroke="#223" stroke-width="0.5"/><text x="552.9" y="476.8">0.500</text><path d="M543.5,487.6h8.7" stroke="#223" stroke-width="0.5"/><text x="552.9" y="489.3">0.400</text><path d="M543.5,500.1h8.7" stroke="#223" stroke-width="0.5"/><text x="552.9" y="501.8">0.300</text><path d="M543.5,512.5h8.7" stroke="#223" stroke-width="0.5"/><text x="552.9" y="514.2">0.200</text><path d="M543.5,525.0h8.7" stroke="#223" stroke-width="0.5"/><text x="552.9" y="526.7">0.100</text><path d="M543.5,537.5h8.7" stroke="#223" stroke-width="0.5"/><text x="552.9" y="539.2">-0.000</text><path d="M543.5,549.9h8.7" stroke="#223" stroke-width="0.5"/><text x="552.9" y="551.6">-0.100</text></g><text x="537.6" y="390.6" font-family='"Liberation Serif", serif' font-size="7.5" fill="#222">[*10<tspan dy="-3" font-size="5.4">-2</tspan><tspan dy="3"> m]</tspan></text>
<text x="200.6" y="314.3" font-family='"Liberation Serif", serif' font-size="16.2" font-weight="bold" fill="#111">(c)</text>
<rect x="21.8" y="46" width="355.5" height="216" fill="#fffef6"/><path d="M342.1,73V253.5" stroke="#cfcfca" stroke-width="0.8"/><clipPath id="clipa"><polygon points="30.7,75.4 129.4,75.4 249.5,195.2 332.7,195.2 332.7,256.8 30.7,256.8"/></clipPath><g clip-path="url(#clipa)"><rect x="29.7" y="74.4" width="304.0" height="183.4" fill="#0000fd"/><g filter="url(#bla)"><path d="M0.0,128.0L4.2,130.1L8.4,132.1L12.6,134.2L16.8,136.3L21.0,138.5L25.1,140.7L29.2,143.1L33.1,145.6L37.0,148.3L40.7,151.1L44.4,154.0L48.1,156.9L51.8,159.8L55.5,162.7L59.3,165.5L63.1,168.2L66.9,170.9L70.7,173.6L74.6,176.3L78.5,178.9L82.4,181.4L86.4,183.9L90.5,186.3L94.6,188.6L98.7,190.8L102.9,192.9L107.1,195.0L111.4,196.9L115.6,198.9L119.9,200.7L124.3,202.5L128.6,204.3L133.0,206.0L137.3,207.7L141.7,209.4L146.1,211.0L150.6,212.6L155.0,214.1L159.5,215.4L164.0,216.7L168.6,217.9L173.1,218.9L177.7,219.8L182.4,220.5L187.0,221.1L191.7,221.5L196.4,221.8L201.1,222.0L205.8,222.2L210.5,222.2L215.1,222.1L219.8,221.8L224.5,221.5L229.2,220.9L233.8,220.2L238.4,219.3L242.9,218.1L247.4,216.6L251.8,214.9L256.1,213.0L260.3,210.9L264.3,208.6L268.1,205.9L271.7,202.8L275.2,199.7L278.5,196.4L281.9,193.1L285.1,189.6L288.0,186.0L500.0,150.0L500.0,-80.0L-40.0,-80.0L-40.0,90.0Z" fill="#000cff"/><path d="M0.0,112.0L3.9,114.2L7.8,116.4L11.8,118.7L15.7,120.9L19.6,123.2L23.5,125.5L27.3,127.8L31.1,130.3L34.8,132.9L38.4,135.6L41.9,138.4L45.4,141.2L48.9,144.1L52.5,146.9L56.1,149.5L59.8,152.1L63.4,154.7L67.1,157.3L70.9,159.9L74.6,162.4L78.3,164.9L82.1,167.4L86.0,169.7L89.9,171.9L93.9,174.0L97.9,176.1L101.9,178.2L105.9,180.2L110.0,182.2L114.0,184.2L118.1,186.0L122.3,187.8L126.5,189.4L130.7,190.9L135.0,192.4L139.2,193.9L143.5,195.3L147.8,196.8L152.1,198.2L156.4,199.6L160.7,200.9L165.0,202.1L169.4,203.1L173.8,204.2L178.1,205.3L182.5,206.4L187.0,207.3L191.4,207.9L195.9,208.4L200.4,208.9L204.9,209.3L209.4,209.6L213.9,209.8L218.4,210.0L222.9,210.1L227.4,210.0L231.9,209.8L236.4,209.4L240.9,208.9L245.3,208.2L249.7,207.3L254.1,206.0L258.2,204.1L262.0,201.7L265.5,198.9L268.9,195.9L272.2,192.9L275.2,189.5L278.0,186.0L500.0,150.0L500.0,-80.0L-40.0,-80.0L-40.0,90.0Z" fill="#001cff"/><path d="M0.0,107.0L3.9,109.1L7.8,111.1L11.7,113.2L15.6,115.3L19.5,117.4L23.4,119.6L27.2,121.8L31.0,124.1L34.7,126.5L38.3,129.1L41.8,131.7L45.3,134.4L48.9,137.0L52.6,139.4L56.3,141.8L60.0,144.2L63.7,146.6L67.5,148.9L71.2,151.2L75.0,153.5L78.8,155.9L82.5,158.2L86.3,160.5L90.1,162.7L94.0,164.9L97.8,167.1L101.7,169.2L105.6,171.2L109.6,173.2L113.6,175.2L117.6,177.0L121.7,178.7L125.8,180.4L129.9,182.0L134.0,183.6L138.2,185.2L142.3,186.7L146.4,188.3L150.6,189.9L154.7,191.5L158.8,193.1L163.0,194.4L167.2,195.7L171.4,197.0L175.7,198.3L179.9,199.5L184.2,200.7L188.5,201.6L192.8,202.5L197.1,203.3L201.4,204.1L205.7,204.8L210.1,205.4L214.5,205.9L218.9,206.2L223.3,206.4L227.7,206.4L232.1,206.3L236.5,206.1L240.9,205.8L245.3,205.2L249.6,204.4L253.7,203.0L257.7,201.1L261.4,198.8L265.0,196.4L268.4,193.5L271.3,190.2L274.0,186.7L500.0,150.0L500.0,-80.0L-40.0,-80.0L-40.0,90.0Z" fill="#004cff"/><path d="M0.0,102.5L3.9,104.5L7.8,106.4L11.6,108.4L15.5,110.4L19.4,112.4L23.2,114.4L27.1,116.4L30.9,118.6L34.6,120.8L38.2,123.3L41.7,125.8L45.3,128.3L49.0,130.6L52.7,132.9L56.4,135.0L60.2,137.2L64.0,139.3L67.8,141.4L71.6,143.5L75.4,145.7L79.2,147.8L82.9,150.0L86.6,152.3L90.3,154.6L94.1,156.8L97.8,159.0L101.6,161.2L105.4,163.3L109.3,165.2L113.2,167.1L117.2,169.0L121.1,170.7L125.1,172.4L129.2,174.1L133.2,175.8L137.2,177.4L141.2,179.1L145.3,180.7L149.2,182.5L153.2,184.3L157.1,186.1L161.2,187.7L165.3,189.1L169.3,190.6L173.4,192.0L177.6,193.4L181.7,194.8L185.8,196.1L190.0,197.3L194.1,198.4L198.3,199.5L202.5,200.6L206.7,201.6L211.0,202.3L215.3,202.8L219.6,203.2L224.0,203.4L228.3,203.6L232.6,203.6L237.0,203.6L241.3,203.4L245.6,202.9L249.8,202.0L253.8,200.5L257.7,198.7L261.5,196.7L264.9,194.0L267.8,190.8L270.5,187.4L500.0,150.0L500.0,-80.0L-40.0,-80.0L-40.0,90.0Z" fill="#0098ff"/><path d="M0.0,100.0L3.9,101.9L7.7,103.8L11.6,105.7L15.5,107.6L19.3,109.5L23.2,111.4L27.0,113.4L30.8,115.5L34.5,117.6L38.1,120.0L41.7,122.5L45.3,124.8L49.0,127.0L52.7,129.1L56.5,131.2L60.3,133.2L64.1,135.2L68.0,137.2L71.8,139.2L75.6,141.2L79.4,143.3L83.1,145.4L86.8,147.6L90.4,150.0L94.1,152.2L97.8,154.5L101.5,156.7L105.3,158.8L109.1,160.7L113.0,162.6L116.9,164.4L120.9,166.2L124.8,167.9L128.7,169.7L132.7,171.4L136.7,173.0L140.6,174.7L144.6,176.5L148.5,178.3L152.3,180.3L156.2,182.1L160.2,183.8L164.2,185.5L168.2,187.0L172.2,188.5L176.2,190.0L180.3,191.5L184.3,192.9L188.4,194.3L192.5,195.6L196.6,196.9L200.7,198.2L204.8,199.4L209.0,200.3L213.3,200.9L217.6,201.4L221.9,201.8L226.2,202.0L230.5,202.2L234.8,202.3L239.1,202.3L243.3,202.1L247.6,201.4L251.7,200.2L255.7,198.6L259.6,196.9L263.0,194.3L265.8,191.1L268.5,187.7L500.0,150.0L500.0,-80.0L-40.0,-80.0L-40.0,90.0Z" fill="#00cafe"/><path d="M0.0,98.0L3.9,99.9L7.7,101.7L11.6,103.5L15.4,105.4L19.3,107.3L23.1,109.1L27.0,111.1L30.8,113.0L34.5,115.2L38.1,117.5L41.7,119.9L45.3,122.2L49.0,124.3L52.8,126.3L56.6,128.2L60.4,130.1L64.3,132.0L68.1,133.9L71.9,135.9L75.7,137.8L79.5,139.8L83.3,141.8L87.0,144.1L90.5,146.4L94.2,148.7L97.8,151.0L101.4,153.2L105.2,155.3L109.0,157.3L112.8,159.1L116.7,160.9L120.6,162.7L124.5,164.5L128.4,166.2L132.3,167.9L136.3,169.7L140.2,171.4L144.1,173.2L147.9,175.1L151.7,177.1L155.5,179.1L159.4,180.9L163.3,182.6L167.3,184.2L171.2,185.8L175.2,187.4L179.2,188.9L183.2,190.5L187.2,192.0L191.2,193.5L195.3,194.9L199.3,196.3L203.4,197.7L207.5,198.7L211.7,199.5L216.0,200.0L220.2,200.5L224.5,200.8L228.8,201.1L233.0,201.4L237.3,201.5L241.6,201.5L245.9,201.0L250.0,200.0L254.0,198.6L258.1,197.1L261.5,194.5L264.3,191.3L267.0,188.0L500.0,150.0L500.0,-80.0L-40.0,-80.0L-40.0,90.0Z" fill="#00fcfd"/><path d="M0.0,94.8L4.1,95.3L8.3,95.7L12.4,96.2L16.6,96.7L20.7,97.2L24.8,97.7L29.0,98.2L33.1,98.7L37.2,99.2L41.3,99.8L45.3,100.5L49.4,101.3L53.5,102.1L57.6,103.0L61.7,104.0L65.7,105.3L69.5,107.0L73.3,108.9L77.0,110.9L80.7,112.9L84.4,115.0L88.1,117.1L91.7,119.4L95.1,121.8L98.3,124.5L101.5,127.3L104.5,130.2L107.6,133.0L111.0,135.5L114.9,137.1L118.6,139.1L121.0,142.4L123.4,145.7L126.7,148.3L130.3,150.4L134.0,152.5L137.7,154.5L141.4,156.5L145.1,158.6L148.5,161.0L150.8,164.3L154.9,165.5L159.0,166.2L163.0,167.6L166.8,169.4L170.4,171.5L174.1,173.6L177.6,175.8L181.1,178.2L184.6,180.5L188.1,182.8L191.8,184.8L195.6,186.7L199.4,188.4L203.3,190.0L207.2,191.5L211.2,192.8L215.2,194.0L219.3,195.1L223.4,196.0L227.6,196.8L231.7,197.5L235.9,198.0L240.0,198.3L244.2,198.4L248.4,198.1L252.4,197.1L255.8,194.8L259.0,192.0L500.0,150.0L500.0,-80.0L-40.0,-80.0L-40.0,90.0Z" fill="#1bfde0"/><path d="M0.0,94.0L4.2,94.1L8.4,94.3L12.6,94.4L16.8,94.5L21.0,94.7L25.2,94.8L29.5,95.0L33.7,95.1L37.9,95.3L42.1,95.4L46.3,95.7L50.5,96.0L54.6,96.5L58.8,97.1L62.9,98.0L67.0,99.1L70.9,100.7L74.6,102.7L78.3,104.7L82.0,106.7L85.6,108.8L89.3,111.0L92.8,113.2L96.3,115.6L99.4,118.4L102.4,121.4L105.3,124.5L108.2,127.5L111.6,130.0L115.4,131.6L119.1,133.7L121.1,137.3L123.1,141.0L126.3,143.8L129.8,146.0L133.5,148.2L137.1,150.2L140.8,152.3L144.4,154.5L147.7,157.0L149.7,160.6L153.7,161.6L157.9,162.1L161.9,163.4L165.7,165.3L169.2,167.5L172.8,169.8L176.3,172.2L179.6,174.7L182.9,177.3L186.4,179.7L189.9,182.0L193.6,184.0L197.4,185.9L201.2,187.7L205.1,189.3L209.0,190.9L212.9,192.3L217.0,193.5L221.0,194.6L225.1,195.6L229.2,196.5L233.4,197.2L237.5,197.9L241.7,198.3L245.9,198.4L250.1,197.7L253.7,195.6L257.0,193.0L500.0,150.0L500.0,-80.0L-40.0,-80.0L-40.0,90.0Z" fill="#44ffb4"/><path d="M74.4,50.0L74.4,53.7L74.4,57.5L74.4,61.2L74.3,65.0L74.3,68.7L74.3,72.5L74.2,76.3L73.9,80.1L73.6,83.9L73.6,87.7L74.5,91.3L76.4,94.6L79.1,97.3L82.6,99.0L86.3,100.3L89.9,101.7L92.9,104.0L95.6,106.5L98.2,109.2L100.8,112.0L103.1,114.9L104.8,118.3L107.3,121.1L109.9,123.8L112.5,126.4L115.4,128.9L118.6,130.7L122.2,131.8L125.6,133.4L128.0,136.4L129.4,140.1L131.7,143.1L134.9,145.4L138.2,147.4L141.4,149.5L144.7,151.5L147.8,153.6L150.8,155.9L152.1,159.3L155.0,161.3L158.7,161.8L162.4,162.1L166.1,162.7L169.6,164.1L172.7,166.6L175.5,169.4L178.3,172.0L181.5,173.9L185.0,175.5L188.3,177.2L191.6,179.0L194.9,180.8L198.3,182.5L201.6,184.1L205.0,185.8L208.4,187.3L211.9,188.7L215.4,190.1L218.9,191.3L222.5,192.4L226.1,193.5L229.7,194.4L233.3,195.3L237.0,196.0L240.7,196.5L244.5,196.7L248.2,196.0L251.4,194.2L254.4,192.0L500.0,150.0L500.0,-80.0L60.0,-80.0Z" fill="#68ff92"/><path d="M78.0,50.0L78.1,53.7L78.3,57.4L78.4,61.0L78.6,64.7L78.7,68.4L78.9,72.1L79.0,75.7L79.2,79.4L79.3,83.1L79.7,86.7L80.8,90.3L82.5,93.5L84.8,96.3L87.8,98.5L91.0,100.3L94.2,102.1L97.1,104.3L99.9,106.8L102.6,109.2L105.2,111.8L107.7,114.5L109.2,117.9L111.5,120.7L114.0,123.5L116.6,126.1L119.3,128.5L122.5,130.3L126.0,131.5L129.4,132.8L132.1,135.3L133.9,138.5L135.9,141.5L138.5,144.2L141.3,146.5L144.2,148.8L147.0,151.1L149.9,153.4L152.6,155.9L153.5,159.4L156.5,161.2L160.2,161.6L163.8,161.9L167.5,162.4L171.0,163.4L174.2,165.2L177.2,167.3L180.2,169.4L183.3,171.4L186.4,173.3L189.6,175.2L192.8,177.1L196.0,178.9L199.2,180.7L202.4,182.4L205.7,184.1L209.0,185.8L212.3,187.4L215.7,188.9L219.1,190.2L222.6,191.4L226.1,192.5L229.6,193.5L233.2,194.4L236.8,195.2L240.4,195.9L244.0,196.2L247.7,195.7L251.0,194.1L254.0,192.0L500.0,150.0L500.0,-80.0L60.0,-80.0Z" fill="#8cff70"/><path d="M82.8,50.0L83.1,53.6L83.5,57.2L83.8,60.7L84.2,64.3L84.6,67.9L85.0,71.4L85.5,75.0L86.2,78.5L86.9,82.0L87.8,85.4L89.1,88.8L90.7,92.0L92.5,95.1L94.7,97.8L97.2,100.3L100.0,102.5L102.8,104.8L105.6,107.0L108.4,109.3L111.2,111.5L113.7,114.1L115.1,117.3L117.1,120.3L119.4,123.0L121.9,125.6L124.6,128.0L127.6,129.9L131.0,131.1L134.5,132.1L137.6,133.7L139.9,136.3L141.5,139.5L143.2,142.6L145.4,145.4L147.8,148.0L150.2,150.6L152.6,153.3L154.9,156.0L155.5,159.5L158.6,161.1L162.1,161.5L165.7,161.7L169.3,161.9L172.9,162.4L176.3,163.3L179.6,164.5L182.8,166.1L185.7,168.1L188.4,170.5L191.2,172.6L194.3,174.6L197.3,176.5L200.4,178.3L203.5,180.2L206.6,182.0L209.7,183.8L212.8,185.6L216.0,187.2L219.3,188.7L222.7,189.9L226.1,191.1L229.5,192.2L233.0,193.2L236.4,194.1L239.9,195.0L243.5,195.5L247.0,195.3L250.3,193.9L253.4,192.0L500.0,150.0L500.0,-80.0L60.0,-80.0Z" fill="#a9ff54"/><path d="M86.0,50.0L86.5,53.5L86.9,57.0L87.4,60.5L87.9,64.1L88.5,67.6L89.1,71.0L89.9,74.5L90.9,77.9L92.0,81.3L93.3,84.6L94.6,87.9L96.1,91.1L97.6,94.3L99.3,97.4L101.3,100.3L103.9,102.8L106.5,105.1L109.4,107.2L112.3,109.3L115.1,111.4L117.8,113.7L119.0,117.0L120.8,120.0L123.1,122.7L125.5,125.3L128.1,127.6L131.1,129.6L134.4,130.8L137.9,131.6L141.2,132.7L144.0,134.9L145.3,138.2L146.3,141.5L148.2,144.6L150.2,147.5L152.3,150.3L154.5,153.1L156.4,156.1L156.8,159.6L159.9,161.0L163.5,161.4L167.0,161.6L170.5,161.7L174.1,161.8L177.6,162.1L181.1,162.6L184.5,163.8L187.3,165.9L189.7,168.5L192.4,170.9L195.3,172.9L198.2,174.8L201.2,176.7L204.2,178.6L207.2,180.6L210.1,182.5L213.2,184.4L216.2,186.1L219.4,187.6L222.7,189.0L226.1,190.2L229.4,191.3L232.8,192.3L236.2,193.4L239.6,194.4L243.1,195.1L246.6,195.0L249.9,193.7L253.0,192.0L500.0,150.0L500.0,-80.0L60.0,-80.0Z" fill="#c6ff38"/><path d="M89.0,50.0L89.5,53.5L90.0,56.9L90.5,60.4L91.1,63.9L91.7,67.3L92.3,70.8L93.2,74.2L94.2,77.5L95.5,80.8L96.8,84.0L98.3,87.2L99.9,90.3L101.5,93.5L103.2,96.5L105.0,99.5L107.5,102.0L110.3,104.2L113.1,106.3L115.8,108.4L118.5,110.7L121.0,113.1L122.7,116.1L124.5,119.1L126.8,121.8L129.1,124.4L131.5,126.9L134.3,129.0L137.5,130.4L140.9,131.4L144.2,132.3L147.3,133.9L149.2,136.6L149.9,140.0L151.5,143.1L153.2,146.1L155.0,149.1L156.9,152.1L158.6,155.1L159.4,158.4L161.4,160.6L164.9,161.2L168.4,161.4L171.9,161.6L175.4,161.7L178.9,161.8L182.4,162.1L185.8,162.8L188.9,163.9L191.8,165.4L194.9,166.9L197.8,168.7L200.1,171.2L202.7,173.5L205.4,175.7L208.1,177.9L210.9,180.0L213.7,182.1L216.6,184.0L219.7,185.8L222.8,187.3L226.1,188.6L229.4,189.8L232.7,190.9L236.0,192.1L239.3,193.2L242.7,194.2L246.1,194.7L249.3,194.7L252.5,194.5L500.0,150.0L500.0,-80.0L60.0,-80.0Z" fill="#e2ff1c"/><path d="M92.0,50.0L92.6,53.4L93.1,56.9L93.6,60.3L94.2,63.7L94.8,67.1L95.6,70.5L96.5,73.9L97.6,77.2L98.9,80.4L100.4,83.5L102.0,86.6L103.7,89.6L105.4,92.6L107.1,95.7L108.7,98.7L111.2,101.1L114.0,103.2L116.8,105.3L119.4,107.6L121.9,110.0L124.3,112.5L126.4,115.2L128.3,118.1L130.5,120.9L132.6,123.6L134.9,126.2L137.5,128.5L140.5,130.1L143.9,131.1L147.2,131.9L150.6,132.9L153.2,135.0L153.5,138.4L154.7,141.6L156.2,144.8L157.7,147.9L159.3,151.0L160.9,154.1L162.0,157.3L162.9,160.2L166.3,161.0L169.7,161.3L173.2,161.4L176.7,161.5L180.1,161.6L183.6,161.6L187.1,161.7L190.5,161.9L194.0,162.2L197.4,162.9L200.4,164.6L202.0,167.6L204.2,170.2L206.6,172.7L209.1,175.2L211.6,177.6L214.3,179.8L217.0,181.9L219.9,183.9L223.0,185.5L226.1,187.0L229.3,188.3L232.6,189.5L235.8,190.8L239.0,192.0L242.3,193.2L245.5,194.4L248.8,195.7L252.0,197.0L500.0,150.0L500.0,-80.0L60.0,-80.0Z" fill="#ffff00"/><ellipse cx="30.7" cy="75" rx="18.5" ry="19.5" fill="#68ff92"/><ellipse cx="30.7" cy="75" rx="16.0" ry="18.0" fill="#8cff70"/><ellipse cx="30.7" cy="75" rx="13.3" ry="16.6" fill="#a9ff54"/><ellipse cx="30.7" cy="75" rx="11.0" ry="15.0" fill="#c6ff38"/><ellipse cx="30.7" cy="75" rx="8.6" ry="12.0" fill="#e2ff1c"/><ellipse cx="30.7" cy="75" rx="6.6" ry="9.3" fill="#ffff00"/><path d="M113.5,74L122,85L130.5,95L138.5,100.3L145,102L157.6,103.2L129,74Z" fill="#ffb400"/><path d="M118.5,74L127.5,85L136,93.5L144.5,98.6L150.5,100.8L156,102L129,74Z" fill="#ff6a00"/><path d="M124,74L133,84L142,92L149,96.5L153,99.5L129,74Z" fill="#ff3c00"/><path d="M137,103.6L140,105.7L145.3,114.6L151.5,120.7L158.5,125L169,127.6L181.5,128.6L185,131L157.4,103.4Z" fill="#ffb400"/><path d="M142,103.6L144.6,105.7L150,114.6L156,120.9L162.8,125L172,127.5L181,128L185,131L157.4,103.4Z" fill="#ff6000"/><path d="M147,103.6L149.2,105.7L154.4,114.6L159.6,120.7L166,125L175,127.3L181.5,127.2L157.4,103.4Z" fill="#ff0400"/><path d="M165,131.2L168.2,134L172,141.6L180,150.7L189.4,156L199.5,158.2L211,159.6L216,162L185,131Z" fill="#ffb400"/><path d="M170,131.2L172.6,134L176.8,141.6L185,150.7L195,156L204.5,158L211,158.4L185,131Z" fill="#ff6000"/><path d="M174.3,131.2L176,132.6L181.2,141.6L190.3,150.7L202,156.4L209.5,156.2L185,131Z" fill="#ff0400"/><ellipse cx="221.8" cy="170" rx="8" ry="5.8" fill="#ffb400"/></g><path d="M44.1,98.2H155.6" stroke="#3a4250" stroke-width="0.6" stroke-opacity="0.85"/><path d="M44.1,108.6H145.6" stroke="#4a6070" stroke-width="0.6" stroke-opacity="0.85"/><path d="M44.1,103.4H157.6" stroke="#06068c" stroke-width="1.5"/><path d="M50.5,125.7H113.0M116.0,125.7H183.2" stroke="#3a4250" stroke-width="0.6" stroke-opacity="0.85"/><path d="M50.5,136.1H113.0M116.0,136.1H173.2" stroke="#4a6070" stroke-width="0.6" stroke-opacity="0.85"/><path d="M50.5,130.9H185.2" stroke="#06068c" stroke-width="1.5"/><path d="M68.0,156.3H151.0M154.0,156.3H213.8" stroke="#3a4250" stroke-width="0.6" stroke-opacity="0.85"/><path d="M68.0,166.7H151.0M154.0,166.7H203.8" stroke="#4a6070" stroke-width="0.6" stroke-opacity="0.85"/><path d="M68.0,161.5H215.8" stroke="#06068c" stroke-width="1.5"/></g><path d="M129.4,75.4L249.5,195.2" stroke="#777" stroke-width="0.4"/><g font-family='"Liberation Serif", serif' font-size="7.7" fill="#0c4a7a"><text x="44.7" y="94.2">Top Nail</text><text x="62" y="122.3">Middle Nail</text><text x="82.3" y="153.8" fill="#0a2a60">Bottom Nail</text></g><path d="M79.2,214.0L123.4,187.0" stroke="#f4f4f4" stroke-width="0.9"/><polygon points="123.4,187.0 120.5,190.9 118.6,187.8" fill="#fff"/><rect x="56.0" y="213.2" width="54.8" height="18.1" fill="#fff"/><text x="81.2" y="224.8" font-family='"Liberation Serif", serif' font-size="7.7" text-anchor="middle" fill="#26305c">Slip Surface</text><g stroke="#1c24a4" fill="none"><path d="M30.5,63.2H128.8" stroke-width="1"/><path d="M30.9,63.2V74.4M35.0,63.2V74.4M39.0,63.2V74.4M43.1,63.2V74.4M47.1,63.2V74.4M51.2,63.2V74.4M55.3,63.2V74.4M59.3,63.2V74.4M63.4,63.2V74.4M67.5,63.2V74.4M71.5,63.2V74.4M75.6,63.2V74.4M79.7,63.2V74.4M83.7,63.2V74.4M87.8,63.2V74.4M91.8,63.2V74.4M95.9,63.2V74.4M100.0,63.2V74.4M104.0,63.2V74.4M108.1,63.2V74.4M112.2,63.2V74.4M116.2,63.2V74.4M120.3,63.2V74.4M124.3,63.2V74.4M128.4,63.2V74.4" stroke-width="0.9"/><path d="M28.7,69.8L30.9,74.9L33.1,69.8M32.8,69.8L35.0,74.9L37.2,69.8M36.8,69.8L39.0,74.9L41.2,69.8M40.9,69.8L43.1,74.9L45.3,69.8M44.9,69.8L47.1,74.9L49.4,69.8M49.0,69.8L51.2,74.9L53.4,69.8M53.1,69.8L55.3,74.9L57.5,69.8M57.1,69.8L59.3,74.9L61.5,69.8M61.2,69.8L63.4,74.9L65.6,69.8M65.3,69.8L67.5,74.9L69.7,69.8M69.3,69.8L71.5,74.9L73.7,69.8M73.4,69.8L75.6,74.9L77.8,69.8M77.5,69.8L79.7,74.9L81.9,69.8M81.5,69.8L83.7,74.9L85.9,69.8M85.6,69.8L87.8,74.9L90.0,69.8M89.6,69.8L91.8,74.9L94.0,69.8M93.7,69.8L95.9,74.9L98.1,69.8M97.8,69.8L100.0,74.9L102.2,69.8M101.8,69.8L104.0,74.9L106.2,69.8M105.9,69.8L108.1,74.9L110.3,69.8M110.0,69.8L112.2,74.9L114.4,69.8M114.0,69.8L116.2,74.9L118.4,69.8M118.1,69.8L120.3,74.9L122.5,69.8M122.1,69.8L124.3,74.9L126.5,69.8M126.2,69.8L128.4,74.9L130.6,69.8" stroke-width="1.1" stroke="#10189a"/></g><g font-family='"Liberation Sans", sans-serif' font-size="4.6" fill="#777"><text x="26.6" y="59.8">A</text><text x="124" y="59.8">A</text></g><g stroke="#3a7a3a" stroke-width="0.6" fill="none"><path d="M28.7,259.0h4M29.8,257.1v4M31.6,257.1v4M62.3,259.0h4M63.4,257.1v4M65.2,257.1v4M95.8,259.0h4M96.9,257.1v4M98.7,257.1v4M129.4,259.0h4M130.5,257.1v4M132.3,257.1v4M162.9,259.0h4M164.0,257.1v4M165.8,257.1v4M196.5,259.0h4M197.6,257.1v4M199.4,257.1v4M230.1,259.0h4M231.2,257.1v4M233.0,257.1v4M263.6,259.0h4M264.7,257.1v4M266.5,257.1v4M297.2,259.0h4M298.3,257.1v4M300.1,257.1v4M330.7,259.0h4M331.8,257.1v4M333.6,257.1v4"/></g><g stroke="#8a9a7a" stroke-width="1" fill="none"><path d="M28.8,84.5v5M28.8,102.5v5M28.8,122.5v5M28.8,143.5v5M28.8,167.5v5M28.8,192.5v5M28.8,219.5v5M28.8,237.5v5M334.3,196.5v5M334.3,223.5v5"/></g><g stroke="#111" stroke-width="0.90" fill="none"><path d="M30.7,23.2V42.8M126.3,23.2V42.8"/><path d="M33.7,33.0H60.6M90.0,33.0H123.3"/></g><polygon points="31.3,33.0 36.3,31.1 36.3,34.9" fill="#000"/><polygon points="125.7,33.0 120.7,34.9 120.7,31.1" fill="#000"/><text x="74.3" y="35.6" font-family='"Liberation Serif", serif' font-size="7.9" text-anchor="middle" fill="#111">8 m</text><g stroke="#111" stroke-width="0.90" fill="none"><path d="M249.4,175.7V187.2M332.0,175.7V187.2"/><path d="M252.4,181.5H283.5M301.0,181.5H329.0"/></g><polygon points="250.0,181.5 255.0,179.6 255.0,183.4" fill="#000"/><polygon points="331.4,181.5 326.4,183.4 326.4,179.6" fill="#000"/><text x="294.0" y="184.1" font-family='"Liberation Serif", serif' font-size="7.9" text-anchor="middle" fill="#111">7 m</text><g stroke="#111" stroke-width="0.90" fill="none"><path d="M30.5,262.0V283.0M332.7,262.0V283.0"/><path d="M33.5,271.8H165.5M189.5,271.8H329.7"/></g><polygon points="31.1,271.8 36.1,269.9 36.1,273.7" fill="#000"/><polygon points="332.1,271.8 327.1,273.7 327.1,269.9" fill="#000"/><text x="179.0" y="274.4" font-family='"Liberation Serif", serif' font-size="7.9" text-anchor="middle" fill="#111">25 m</text><g stroke="#111" stroke-width="0.90" fill="none"><path d="M2.0,74.6H19.8M2.0,256.8H19.8"/><path d="M11.9,77.6V146.0M11.9,179.5V253.8"/></g><polygon points="11.9,75.2 13.8,80.2 10.0,80.2" fill="#000"/><polygon points="11.9,256.2 10.0,251.2 13.8,251.2" fill="#000"/><text transform="translate(14.5,163.7) rotate(-90)" font-family='"Liberation Serif", serif' font-size="7.8" text-anchor="middle" fill="#111">15 m</text><g stroke="#111" stroke-width="0.90" fill="none"><path d="M318.2,195.5H318.2M318.2,256.6H318.2"/><path d="M318.2,198.5V217.0M318.2,231.0V253.6"/></g><polygon points="318.2,196.1 320.1,201.1 316.3,201.1" fill="#000"/><polygon points="318.2,256.0 316.3,251.0 320.1,251.0" fill="#000"/><text x="319.0" y="226.2" font-family='"Liberation Serif", serif' font-size="7.9" text-anchor="middle" fill="#111">5 m</text>
<rect x="181.4" y="37.6" width="129.6" height="52.1" fill="#fff" stroke="#444" stroke-width="1.1"/><text font-family='"Liberation Serif", serif' font-size="7.85" fill="#111"><tspan x="188.0" y="48.3">Model type: Mohr – Coulomb</tspan><tspan x="188.0" y="57.5">Soil type: Sand</tspan><tspan x="188.0" y="66.6"><tspan font-style="italic">c</tspan> = 1.37 kPa; <tspan font-style="italic">ϕ</tspan> = 30°</tspan><tspan x="188.0" y="75.8">Slope angle with horizontal = 45°</tspan><tspan x="188.0" y="85.0">Nail inclination with horizontal = 0°</tspan></text>
<rect x="340.5" y="83.5" width="33" height="11" fill="#fff"/>
<g shape-rendering="crispEdges"><rect x="352.1" y="100.90" width="6.5" height="7.95" fill="#f00000"/><rect x="352.1" y="108.56" width="6.5" height="7.95" fill="#f80000"/><rect x="352.1" y="116.21" width="6.5" height="7.95" fill="#ff3800"/><rect x="352.1" y="123.87" width="6.5" height="7.95" fill="#ff6800"/><rect x="352.1" y="131.52" width="6.5" height="7.95" fill="#ff9800"/><rect x="352.1" y="139.18" width="6.5" height="7.95" fill="#ffc800"/><rect x="352.1" y="146.83" width="6.5" height="7.95" fill="#fff000"/><rect x="352.1" y="154.49" width="6.5" height="7.95" fill="#ffff00"/><rect x="352.1" y="162.14" width="6.5" height="7.95" fill="#ffff00"/><rect x="352.1" y="169.80" width="6.5" height="7.95" fill="#e0ff20"/><rect x="352.1" y="177.45" width="6.5" height="7.95" fill="#a8ff58"/><rect x="352.1" y="185.11" width="6.5" height="7.95" fill="#78ff88"/><rect x="352.1" y="192.76" width="6.5" height="7.95" fill="#40ffc0"/><rect x="352.1" y="200.41" width="6.5" height="7.95" fill="#10fff0"/><rect x="352.1" y="208.07" width="6.5" height="7.95" fill="#00f0ff"/><rect x="352.1" y="215.72" width="6.5" height="7.95" fill="#00c0ff"/><rect x="352.1" y="223.38" width="6.5" height="7.95" fill="#0090ff"/><rect x="352.1" y="231.03" width="6.5" height="7.95" fill="#0058ff"/><rect x="352.1" y="238.69" width="6.5" height="7.95" fill="#0020ff"/><rect x="352.1" y="246.34" width="6.5" height="7.95" fill="#0000fd"/></g><g font-family='"Liberation Sans", sans-serif' font-size="4.5" fill="#222"><path d="M352.1,101.2h8.0" stroke="#223" stroke-width="0.5"/><text x="360.8" y="102.9">0.760</text><path d="M352.1,116.5h8.0" stroke="#223" stroke-width="0.5"/><text x="360.8" y="118.2">0.680</text><path d="M352.1,131.8h8.0" stroke="#223" stroke-width="0.5"/><text x="360.8" y="133.5">0.600</text><path d="M352.1,147.0h8.0" stroke="#223" stroke-width="0.5"/><text x="360.8" y="148.7">0.520</text><path d="M352.1,162.3h8.0" stroke="#223" stroke-width="0.5"/><text x="360.8" y="164.0">0.440</text><path d="M352.1,177.6h8.0" stroke="#223" stroke-width="0.5"/><text x="360.8" y="179.3">0.360</text><path d="M352.1,192.9h8.0" stroke="#223" stroke-width="0.5"/><text x="360.8" y="194.6">0.280</text><path d="M352.1,208.2h8.0" stroke="#223" stroke-width="0.5"/><text x="360.8" y="209.9">0.200</text><path d="M352.1,223.4h8.0" stroke="#223" stroke-width="0.5"/><text x="360.8" y="225.1">0.120</text><path d="M352.1,238.7h8.0" stroke="#223" stroke-width="0.5"/><text x="360.8" y="240.4">0.040</text><path d="M352.1,254.0h8.0" stroke="#223" stroke-width="0.5"/><text x="360.8" y="255.7">-0.040</text></g><text x="343.0" y="91.3" font-family='"Liberation Serif", serif' font-size="7.5" fill="#222">[*10<tspan dy="-3" font-size="5.4">-2</tspan><tspan dy="3"> m]</tspan></text>
<text x="3.6" y="12.8" font-family='"Liberation Serif", serif' font-size="16.2" font-weight="bold" fill="#111">(a)</text>
</svg></body></html>
